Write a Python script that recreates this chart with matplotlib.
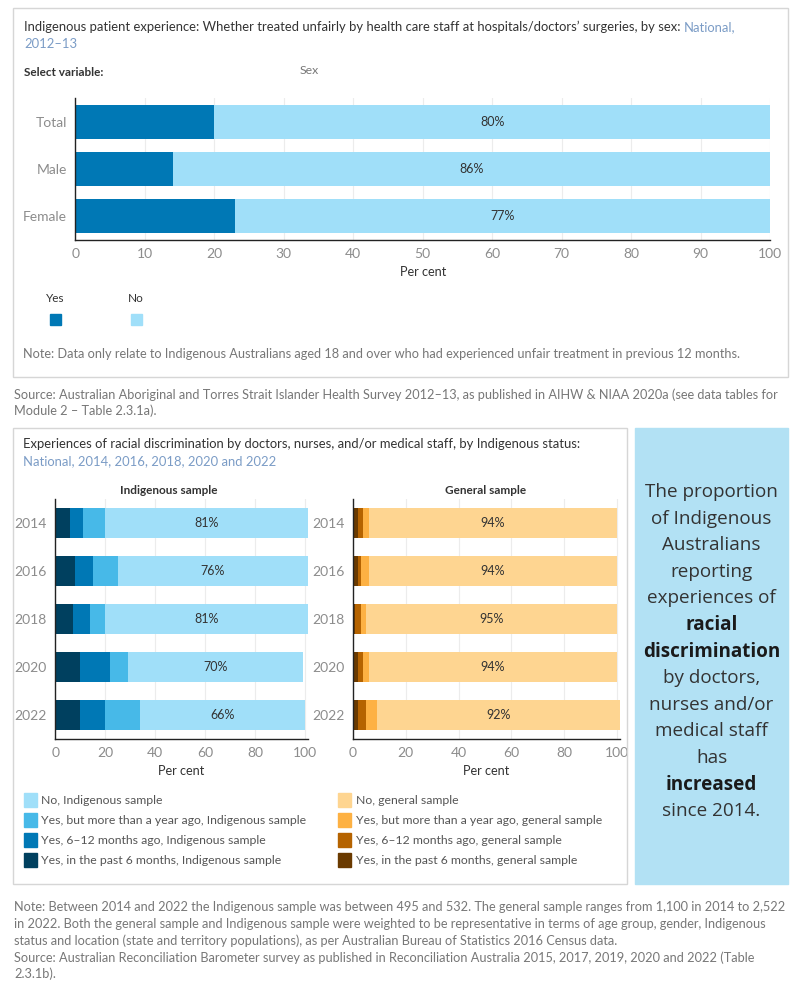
import numpy as np
import matplotlib
matplotlib.use("Agg")
import matplotlib.pyplot as plt
from matplotlib.patches import Rectangle

plt.rcParams['font.family'] = ['Lato', 'DejaVu Sans']

# --- data: top chart (2012-13, by sex)
sexes = ['Total', 'Male', 'Female']
sex_yes = [20, 14, 23]
sex_no = [80, 86, 77]

# --- data: bottom charts (by year)
years = ['2014', '2016', '2018', '2020', '2022']
ind_past6 = [6, 8, 7, 10, 10]
ind_6to12 = [5, 7, 7, 12, 10]
ind_overyear = [9, 10, 6, 7, 14]
ind_no = [81, 76, 81, 70, 66]
gen_past6 = [2, 2, 1, 2, 2]
gen_6to12 = [2, 1, 2, 2, 3]
gen_overyear = [2, 3, 2, 2, 4]
gen_no = [94, 94, 95, 94, 92]

ind_colors = ['#00405f', '#0078b5', '#47b9e8', '#a0dff9']
gen_colors = ['#6a3a00', '#b56300', '#fdb143', '#fed591']
yes_col, no_col = '#0078b5', '#a0dff9'

W, H = 800, 1000
fig = plt.figure(figsize=(8, 10), dpi=100)

def ftext(x, y, s, **kw):
    kw.setdefault('va', 'center')
    kw.setdefault('fontsize', 9)
    kw.setdefault('color', '#555555')
    return fig.text(x / W, 1 - y / H, s, **kw)

def fbox(x0, y0, x1, y1, **kw):
    fig.patches.append(Rectangle((x0 / W, 1 - y1 / H), (x1 - x0) / W, (y1 - y0) / H,
                                 transform=fig.transFigure, **kw))

def faxes(x0, y0, x1, y1):
    return fig.add_axes([x0 / W, 1 - y1 / H, (x1 - x0) / W, (y1 - y0) / H])

def style(ax, xt, xlim, ylim):
    ax.set_xlim(*xlim)
    ax.set_ylim(*ylim)
    ax.set_xticks(xt)
    for s in ['top', 'right']:
        ax.spines[s].set_visible(False)
    for s in ['left', 'bottom']:
        ax.spines[s].set_color('#222222')
        ax.spines[s].set_linewidth(1)
    ax.tick_params(length=0, labelsize=10, labelcolor='#8c8c8c', pad=6)
    ax.grid(axis='x', color='#ececec', lw=0.8)
    ax.set_axisbelow(True)
    ax.set_xlabel('Per cent', fontsize=9.2, color='#333333', labelpad=4)

# ---------------- top panel
fbox(13, 8, 788, 377, fill=False, edgecolor='#d6d6d6', lw=1)
t = ftext(24, 27, 'Indigenous patient experience: Whether treated unfairly by health care staff at hospitals/doctors\u2019 surgeries, by sex: ',
          color='#333333', fontsize=9.4)
fig.canvas.draw()
bb = t.get_window_extent()
ftext(bb.x1, 27, 'National,', color='#7b9cc6', fontsize=9.4)
ftext(24, 44, '2012\u201313', color='#7b9cc6', fontsize=9.4)
ftext(24, 73, 'Select variable:', color='#333333', fontsize=8.5, fontweight='bold')
ftext(300, 71, 'Sex', color='#777777', fontsize=8.8)

ax1 = faxes(75.3, 98, 770, 240)
y = np.arange(len(sexes))
ax1.barh(y, sex_yes, height=0.72, color=yes_col)
ax1.barh(y, sex_no, left=sex_yes, height=0.72, color=no_col)
for i in range(len(sexes)):
    ax1.text(sex_yes[i] + sex_no[i] / 2, i, f'{sex_no[i]}%', ha='center', va='center',
             fontsize=9, color='#333333')
ax1.set_yticks(y)
ax1.set_yticklabels(sexes)
style(ax1, range(0, 101, 10), (0, 100), (2.51, -0.51))

ftext(55, 298, 'Yes', color='#333333', fontsize=8.5, ha='center')
ftext(136, 298, 'No', color='#333333', fontsize=8.5, ha='center')
fbox(50, 314, 61, 325, color=yes_col)
fbox(131, 314, 142, 325, color=no_col)
ftext(23, 354, 'Note: Data only relate to Indigenous Australians aged 18 and over who had experienced unfair treatment in previous 12 months.',
      fontsize=9.2, color='#777777')
ftext(14, 395, 'Source: Australian Aboriginal and Torres Strait Islander Health Survey 2012\u201313, as published in AIHW & NIAA 2020a (see data tables for',
      fontsize=9.2, color='#777777')
ftext(14, 411, 'Module 2 \u2013 Table 2.3.1a).', fontsize=9.2, color='#777777')

# ---------------- bottom panel
fbox(13, 428, 627, 884, fill=False, edgecolor='#d6d6d6', lw=1)
ftext(23, 444, 'Experiences of racial discrimination by doctors, nurses, and/or medical staff, by Indigenous status:',
      color='#333333', fontsize=9.4)
ftext(23, 461, 'National, 2014, 2016, 2018, 2020 and 2022', color='#7b9cc6', fontsize=9.4)
ftext(169, 490, 'Indigenous sample', color='#333333', fontsize=8.5, fontweight='bold', ha='center')
ftext(486, 490, 'General sample', color='#333333', fontsize=8.5, fontweight='bold', ha='center')

yy = np.arange(len(years))
panels = [
    (faxes(55.3, 499, 307.8, 739), [ind_past6, ind_6to12, ind_overyear, ind_no], ind_colors),
    (faxes(352.7, 499, 620, 739), [gen_past6, gen_6to12, gen_overyear, gen_no], gen_colors),
]
for ax, series, cols in panels:
    left = np.zeros(len(years))
    for vals, c in zip(series, cols):
        ax.barh(yy, vals, left=left, height=0.625, color=c)
        left = left + np.array(vals)
    no_vals = series[-1]
    starts = left - np.array(no_vals)
    for i in range(len(years)):
        ax.text(starts[i] + no_vals[i] / 2, i, f'{no_vals[i]}%', ha='center', va='center',
                fontsize=9, color='#333333')
    ax.set_yticks(yy)
    ax.set_yticklabels(years)
    style(ax, range(0, 101, 20), (0, 101), (4.5, -0.5))

leg_ind = ['No, Indigenous sample', 'Yes, but more than a year ago, Indigenous sample',
           'Yes, 6\u201312 months ago, Indigenous sample', 'Yes, in the past 6 months, Indigenous sample']
leg_gen = ['No, general sample', 'Yes, but more than a year ago, general sample',
           'Yes, 6\u201312 months ago, general sample', 'Yes, in the past 6 months, general sample']
for k in range(4):
    yk = 800 + 20 * k
    fbox(24, yk - 7, 37, yk + 7, color=ind_colors[3 - k])
    ftext(41, yk, leg_ind[k], fontsize=8.8, color='#555555')
    fbox(338, yk - 7, 351, yk + 7, color=gen_colors[3 - k])
    ftext(356, yk, leg_gen[k], fontsize=8.8, color='#555555')

# side box
fbox(635, 428, 788, 884, color='#b2e1f4')
side = [('The proportion', 'normal'), ('of Indigenous', 'normal'), ('Australians', 'normal'),
        ('reporting', 'normal'), ('experiences of', 'normal'), ('racial', 'bold'),
        ('discrimination', 'bold'), ('by doctors,', 'normal'), ('nurses and/or', 'normal'),
        ('medical staff', 'normal'), ('has', 'normal'), ('increased', 'bold'), ('since 2014.', 'normal')]
for k, (s, w) in enumerate(side):
    ftext(711.5, 492 + 26.6 * k, s, ha='center', fontsize=13.6, fontweight=w,
          color='#1a1a1a' if w == 'bold' else '#333333', family=['Open Sans', 'DejaVu Sans'])

notes = ['Note: Between 2014 and 2022 the Indigenous sample was between 495 and 532. The general sample ranges from 1,100 in 2014 to 2,522',
         'in 2022. Both the general sample and Indigenous sample were weighted to be representative in terms of age group, gender, Indigenous',
         'status and location (state and territory populations), as per Australian Bureau of Statistics 2016 Census data.',
         'Source: Australian Reconciliation Barometer survey as published in Reconciliation Australia 2015, 2017, 2019, 2020 and 2022 (Table',
         '2.3.1b).']
for k, s in enumerate(notes):
    ftext(14, 907 + 16.8 * k, s, fontsize=9.2, color='#777777')

fig.savefig('out.png', dpi=100, facecolor='white')
